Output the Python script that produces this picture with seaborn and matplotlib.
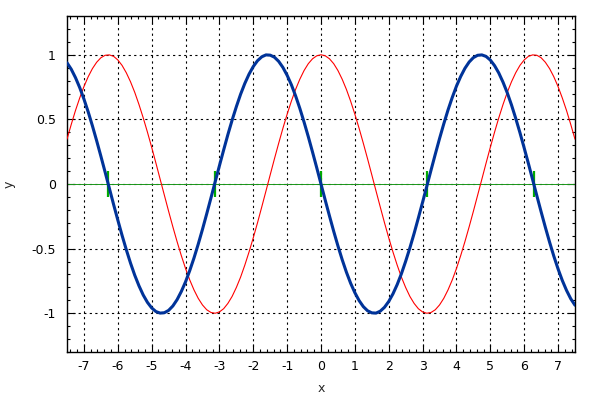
import pandas as pd
import matplotlib
matplotlib.use('Agg')
import matplotlib.pyplot as plt
from matplotlib.ticker import MultipleLocator
import seaborn as sns

# sample positions and curve values
x_vals = [-7.5, -7.375, -7.25, -7.125, -7.0, -6.875, -6.75, -6.625,
          -6.5, -6.375, -6.25, -6.125, -6.0, -5.875, -5.75, -5.625,
          -5.5, -5.375, -5.25, -5.125, -5.0, -4.875, -4.75, -4.625,
          -4.5, -4.375, -4.25, -4.125, -4.0, -3.875, -3.75, -3.625,
          -3.5, -3.375, -3.25, -3.125, -3.0, -2.875, -2.75, -2.625,
          -2.5, -2.375, -2.25, -2.125, -2.0, -1.875, -1.75, -1.625,
          -1.5, -1.375, -1.25, -1.125, -1.0, -0.875, -0.75, -0.625,
          -0.5, -0.375, -0.25, -0.125, 0.0,
          0.125, 0.25, 0.375, 0.5, 0.625, 0.75, 0.875, 1.0,
          1.125, 1.25, 1.375, 1.5, 1.625, 1.75, 1.875, 2.0,
          2.125, 2.25, 2.375, 2.5, 2.625, 2.75, 2.875, 3.0,
          3.125, 3.25, 3.375, 3.5, 3.625, 3.75, 3.875, 4.0,
          4.125, 4.25, 4.375, 4.5, 4.625, 4.75, 4.875, 5.0,
          5.125, 5.25, 5.375, 5.5, 5.625, 5.75, 5.875, 6.0,
          6.125, 6.25, 6.375, 6.5, 6.625, 6.75, 6.875, 7.0,
          7.125, 7.25, 7.375, 7.5]

# thin red curve
red_y = [0.347, 0.461, 0.569, 0.666, 0.754, 0.830, 0.893, 0.942,
         0.977, 0.996, 0.999, 0.988, 0.960, 0.918, 0.861, 0.791,
         0.709, 0.615, 0.512, 0.401, 0.284, 0.162, 0.037, -0.087,
         -0.211, -0.331, -0.446, -0.554, -0.654, -0.743, -0.820, -0.885,
         -0.936, -0.973, -0.994, -1.000, -0.990, -0.965, -0.924, -0.870,
         -0.801, -0.721, -0.628, -0.526, -0.416, -0.300, -0.178, -0.054,
         0.071, 0.195, 0.315, 0.431, 0.540, 0.641, 0.732, 0.811,
         0.878, 0.931, 0.969, 0.992, 1.000,
         0.992, 0.969, 0.931, 0.878, 0.811, 0.732, 0.641, 0.540,
         0.431, 0.315, 0.195, 0.071, -0.054, -0.178, -0.300, -0.416,
         -0.526, -0.628, -0.721, -0.801, -0.870, -0.924, -0.965, -0.990,
         -1.000, -0.994, -0.973, -0.936, -0.885, -0.820, -0.743, -0.654,
         -0.554, -0.446, -0.331, -0.211, -0.087, 0.037, 0.162, 0.284,
         0.401, 0.512, 0.615, 0.709, 0.791, 0.861, 0.918, 0.960,
         0.988, 0.999, 0.996, 0.977, 0.942, 0.893, 0.830, 0.754,
         0.666, 0.569, 0.461, 0.347]

# thick blue curve
blue_y = [0.938, 0.888, 0.823, 0.746, 0.657, 0.558, 0.450, 0.335,
          0.215, 0.092, -0.033, -0.158, -0.279, -0.397, -0.508, -0.612,
          -0.706, -0.788, -0.859, -0.916, -0.959, -0.987, -0.999, -0.996,
          -0.978, -0.944, -0.895, -0.832, -0.757, -0.669, -0.572, -0.465,
          -0.351, -0.231, -0.108, 0.017, 0.141, 0.263, 0.382, 0.494,
          0.598, 0.694, 0.778, 0.850, 0.909, 0.954, 0.984, 0.999,
          0.997, 0.981, 0.949, 0.902, 0.841, 0.768, 0.682, 0.585,
          0.479, 0.366, 0.247, 0.125, 0.000,
          -0.125, -0.247, -0.366, -0.479, -0.585, -0.682, -0.768, -0.841,
          -0.902, -0.949, -0.981, -0.997, -0.999, -0.984, -0.954, -0.909,
          -0.850, -0.778, -0.694, -0.598, -0.494, -0.382, -0.263, -0.141,
          -0.017, 0.108, 0.231, 0.351, 0.465, 0.572, 0.669, 0.757,
          0.832, 0.895, 0.944, 0.978, 0.996, 0.999, 0.987, 0.959,
          0.916, 0.859, 0.788, 0.706, 0.612, 0.508, 0.397, 0.279,
          0.158, 0.033, -0.092, -0.215, -0.335, -0.450, -0.558, -0.657,
          -0.746, -0.823, -0.888, -0.938]

# green markers on the zero line
mark_x = [-6.283, -3.142, 0.0, 3.142, 6.283]
mark_lo = [-0.1, -0.1, -0.1, -0.1, -0.1]
mark_hi = [0.1, 0.1, 0.1, 0.1, 0.1]

df = pd.DataFrame({'x': x_vals, 'red': red_y, 'blue': blue_y})

sns.set_style('ticks')
plt.rcParams['font.family'] = ['DejaVu Sans']

fig = plt.figure(figsize=(6, 4), dpi=100)
ax = fig.add_axes([0.1117, 0.12, 0.8466, 0.84])

ax.axhline(0, color='#1a961a', lw=0.7, zorder=1)
ax.vlines(mark_x, mark_lo, mark_hi, color='#00aa00', lw=1.6, zorder=2)

sns.lineplot(data=df, x='x', y='red', color='#ff0000', lw=0.8, ax=ax, zorder=3)
sns.lineplot(data=df, x='x', y='blue', color='#003399', lw=2.2, ax=ax, zorder=4)

ax.set_xlim(-7.5, 7.5)
ax.set_ylim(-1.3, 1.3)
ax.xaxis.set_minor_locator(MultipleLocator(0.2))
ax.yaxis.set_minor_locator(MultipleLocator(0.1))
ax.set_yticks([-1, -0.5, 0, 0.5, 1])
ax.set_yticklabels(['-1', '-0.5', '0', '0.5', '1'])
ax.set_xticks(range(-7, 8))
ax.set_xticklabels([str(v) for v in range(-7, 8)])

ax.grid(True, which='major', color='black', lw=0.8, linestyle=(0, (2, 3)))
ax.tick_params(which='both', direction='in', top=True, right=True,
               labelsize=9, colors='black')
ax.tick_params(axis='x', which='major', pad=6)
ax.tick_params(axis='y', which='major', pad=8)
ax.tick_params(which='major', length=5.5, width=0.8)
ax.tick_params(which='minor', length=2.5, width=0.8)
for s in ax.spines.values():
    s.set_linewidth(1.0)
    s.set_color('black')

ax.set_xlabel('x', fontsize=9, labelpad=6)
ax.set_ylabel('y', fontsize=9)
ax.yaxis.set_label_coords(-0.102, 0.5)

fig.savefig('out.png', dpi=100)
